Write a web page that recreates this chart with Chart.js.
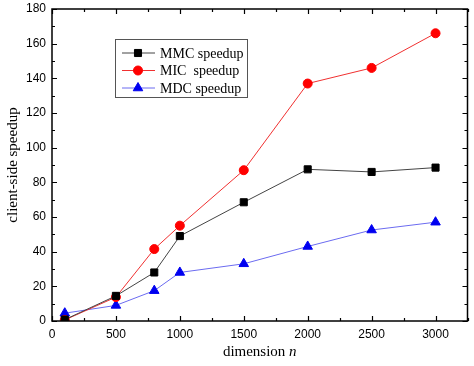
<!DOCTYPE html>
<html>
<head>
<meta charset="utf-8">
<script src="https://cdn.jsdelivr.net/npm/chart.js@4.4.1/dist/chart.umd.min.js"></script>
<style>
  html, body { margin: 0; padding: 0; background: #fff; }
  #wrap { width: 474px; height: 366px; }
</style>
</head>
<body>
<div id="wrap"><canvas id="chart"></canvas></div>
<script>
// data
const dims = [100, 500, 800, 1000, 1500, 2000, 2500, 3000];
const mmcSpeedup = [0.8, 14.5, 28, 49, 68.5, 87.5, 86, 88.5];
const micSpeedup = [0.6, 13.8, 41.5, 55, 87, 137, 146, 166];
const mdcSpeedup = [4.5, 9, 17.5, 28, 33, 43, 52.5, 57];
const seriesNames = ['MMC speedup', 'MIC  speedup', 'MDC speedup'];
const xTickValues = [0, 500, 1000, 1500, 2000, 2500, 3000];

const toPoints = (ys) => dims.map((x, i) => ({ x: x, y: ys[i] }));

//draws the frame with inward ticks on all four sides
const frameTicks = {
    id: 'frameTicks',
    afterDatasetsDraw(chart) {
        const { ctx, chartArea: a, scales: { x, y } } = chart;
        ctx.save();
        ctx.strokeStyle = '#000';
        ctx.lineWidth = 1.5;
        ctx.strokeRect(a.left, a.top, a.right - a.left, a.bottom - a.top);
        ctx.lineWidth = 1.2;
        ctx.beginPath();
        for (let v = 0; v <= 3250; v += 250) {
            const px = Math.round(x.getPixelForValue(v)) + 0.5;
            const len = v % 500 === 0 ? 5 : 3;
            ctx.moveTo(px, a.bottom); ctx.lineTo(px, a.bottom - len);
            ctx.moveTo(px, a.top); ctx.lineTo(px, a.top + len);
        }
        for (let v = 0; v <= 180; v += 10) {
            const py = Math.round(y.getPixelForValue(v)) + 0.5;
            const len = v % 20 === 0 ? 5 : 3;
            ctx.moveTo(a.left, py); ctx.lineTo(a.left + len, py);
            ctx.moveTo(a.right, py); ctx.lineTo(a.right - len, py);
        }
        ctx.stroke();

        //x title with italic n
        ctx.fillStyle = '#000';
        ctx.textBaseline = 'alphabetic';
        const t1 = 'dimension ';
        ctx.font = '15px "Liberation Serif"';
        const w1 = ctx.measureText(t1).width;
        ctx.font = 'italic 15px "Liberation Serif"';
        const w2 = ctx.measureText('n').width;
        const cx = (a.left + a.right) / 2;
        const sx = cx - (w1 + w2) / 2;
        ctx.font = '15px "Liberation Serif"';
        ctx.fillText(t1, sx, 356);
        ctx.font = 'italic 15px "Liberation Serif"';
        ctx.fillText('n', sx + w1, 356);
        ctx.restore();
    }
};

//legend box inside the plot
const boxLegend = {
    id: 'boxLegend',
    afterDatasetsDraw(chart) {
        const { ctx } = chart;
        const bx = 115, by = 39, bw = 132, bh = 58;
        ctx.save();
        ctx.fillStyle = '#fff';
        ctx.fillRect(bx, by, bw, bh);
        ctx.strokeStyle = '#555';
        ctx.lineWidth = 1;
        ctx.strokeRect(bx + 0.5, by + 0.5, bw, bh);
        chart.data.datasets.forEach((ds, i) => {
            const ry = by + 14 + i * 17.5;
            ctx.strokeStyle = ds.borderColor;
            ctx.lineWidth = 1;
            ctx.beginPath();
            ctx.moveTo(bx + 7, ry); ctx.lineTo(bx + 40, ry);
            ctx.stroke();
            ctx.fillStyle = ds.pointBackgroundColor;
            ctx.strokeStyle = ds.pointBorderColor;
            Chart.helpers.drawPoint(ctx, {
                pointStyle: ds.pointStyle,
                radius: ds.pointRadius,
                borderWidth: 1
            }, bx + 23, ry);
            ctx.fillStyle = '#000';
            ctx.font = '14px "Liberation Serif"';
            ctx.textBaseline = 'middle';
            ctx.fillText(ds.label, bx + 45, ry + 1);
        });
        ctx.restore();
    }
};

new Chart(document.getElementById('chart'), {
    type: 'line',
    data: {
        datasets: [{
            label: seriesNames[0],
            data: toPoints(mmcSpeedup),
            borderColor: '#444',
            borderWidth: 1,
            pointStyle: 'rect',
            pointRadius: 5,
            pointBackgroundColor: '#000',
            pointBorderColor: '#000'
        }, {
            label: seriesNames[1],
            data: toPoints(micSpeedup),
            borderColor: '#f03030',
            borderWidth: 1,
            pointStyle: 'circle',
            pointRadius: 4.5,
            pointBackgroundColor: '#f00',
            pointBorderColor: '#f00'
        }, {
            label: seriesNames[2],
            data: toPoints(mdcSpeedup),
            borderColor: '#6b6bf0',
            borderWidth: 1,
            pointStyle: 'triangle',
            pointRadius: 5.5,
            pointBackgroundColor: '#0000f0',
            pointBorderColor: '#0000f0'
        }]
    },
    options: {
        responsive: true,
        maintainAspectRatio: false,
        animation: false,
        layout: { padding: { top: 9, right: 1, left: 0, bottom: 0 } },
        plugins: {
            legend: { display: false },
            tooltip: { enabled: false }
        },
        scales: {
            x: {
                type: 'linear',
                min: 0,
                max: 3250,
                grid: { display: false, drawTicks: false },
                border: { display: false },
                afterBuildTicks: (s) => { s.ticks = xTickValues.map(v => ({ value: v })); },
                ticks: {
                    autoSkip: false,
                    padding: 6,
                    color: '#000',
                    font: { family: 'Liberation Sans', size: 12 },
                    maxRotation: 0,
                    callback: (v) => String(v)
                },
                afterFit: (s) => { s.height = 45; s.paddingLeft = 0; s.paddingRight = 0; }
            },
            y: {
                min: 0,
                max: 180,
                grid: { display: false, drawTicks: false },
                border: { display: false },
                ticks: {
                    stepSize: 20,
                    padding: 6,
                    color: '#000',
                    font: { family: 'Liberation Sans', size: 12 }
                },
                title: {
                    display: true,
                    text: 'client-side speedup',
                    color: '#000',
                    font: { family: 'Liberation Serif', size: 15 },
                    padding: { top: 4, bottom: 4 }
                },
                afterFit: (s) => { s.width = 52; s.paddingTop = 0; s.paddingBottom = 0; }
            }
        }
    },
    plugins: [frameTicks, boxLegend]
});
</script>
</body>
</html>
